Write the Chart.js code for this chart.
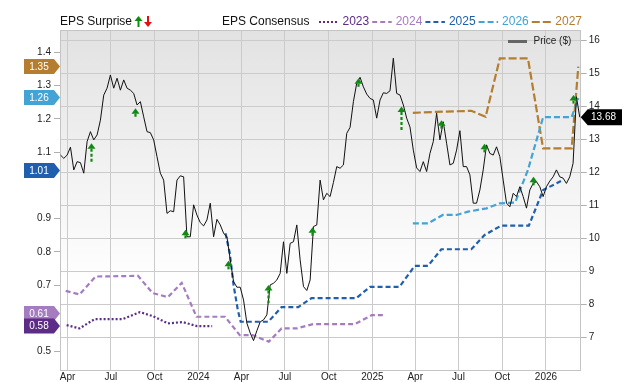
<!DOCTYPE html>
<html><head><meta charset="utf-8">
<script src="https://cdn.jsdelivr.net/npm/chart.js@4/dist/chart.umd.min.js"></script>
<style>html,body{margin:0;padding:0;background:#fff;}canvas{display:block;}</style>
</head><body><canvas id="c" width="640" height="382"></canvas>
<script>
// ---------- data ----------
const xTickDates = ['2023-04-01','2023-07-01','2023-10-01','2024-01-01','2024-04-01','2024-07-01','2024-10-01','2025-01-01','2025-04-01','2025-07-01','2025-10-01','2026-01-01'];
const xTickLabels = ['Apr','Jul','Oct','2024','Apr','Jul','Oct','2025','Apr','Jul','Oct','2026'];
const xRange = ['2023-03-16','2026-03-15'];
const epsTicks = [0.5,0.7,0.8,0.9,1.1,1.2,1.3,1.4];
const priceTicks = [7,8,9,10,11,12,13,14,15,16];

const priceStart = '2023-03-17'; // weekly closes
const priceValues = [
 12.53,12.43,12.53,12.77,12.08,12.33,12.30,11.98,12.94,13.24,
 12.99,13.14,13.59,14.35,14.56,14.96,14.56,14.86,14.50,14.81,
 14.56,14.50,14.40,14.05,14.15,13.69,13.24,13.21,12.99,12.48,
 11.98,11.77,10.76,10.84,10.81,11.77,11.90,11.87,10.05,10.05,
 11.02,10.71,10.48,10.38,10.56,11.07,10.05,10.58,10.41,10.16,
 10.05,9.35,8.69,8.52,8.52,8.13,7.43,7.13,6.90,7.20,
 7.47,7.53,7.68,8.59,8.64,8.74,8.94,9.90,8.94,9.85,
 9.90,10.41,9.35,8.54,8.42,8.74,10.36,10.41,11.77,11.17,
 11.37,11.27,11.70,12.18,12.13,12.23,13.19,13.37,14.15,14.71,
 14.89,14.60,14.38,14.25,14.20,13.65,14.20,14.42,14.40,14.48,
 15.47,14.40,14.35,14.05,13.65,13.38,12.68,12.14,12.03,12.33,
 12.03,12.58,12.94,13.80,12.99,13.54,12.89,12.23,12.28,12.68,
 13.27,12.18,12.18,11.93,11.07,11.07,11.47,12.08,12.84,12.58,
 12.53,12.78,12.48,11.77,11.07,10.96,11.37,11.27,11.57,11.27,
 10.92,11.47,11.67,11.72,11.57,11.27,11.57,11.74,11.87,12.08,
 11.87,11.83,11.67,11.87,12.28,14.30,13.68];
const lastPrice = 13.68;

const eps2023Dates = ['2023-03-30','2023-04-26','2023-05-28','2023-07-26','2023-08-31','2023-09-27','2023-10-29','2023-11-29','2023-12-29','2024-01-30'];
const eps2023Values = [0.580,0.570,0.598,0.598,0.619,0.607,0.585,0.589,0.577,0.577];

const eps2024Dates = ['2023-03-28','2023-04-26','2023-05-30','2023-08-27','2023-09-27','2023-10-29','2023-11-27','2023-12-28','2024-02-26','2024-03-28','2024-04-24','2024-05-28','2024-06-24','2024-07-26','2024-08-29','2024-11-25','2024-12-31','2025-01-27'];
const eps2024Values = [0.683,0.672,0.726,0.728,0.676,0.664,0.707,0.605,0.605,0.550,0.550,0.530,0.570,0.570,0.583,0.583,0.610,0.610];

const eps2025Dates = ['2024-02-27','2024-03-07','2024-03-15','2024-03-24','2024-03-30','2024-05-27','2024-06-24','2024-07-29','2024-08-26','2024-11-28','2024-12-27','2025-02-27','2025-03-31','2025-04-28','2025-05-26','2025-07-28','2025-08-25','2025-09-29','2025-11-26','2025-12-26','2026-01-23','2026-02-05'];
const eps2025Values = [0.856,0.796,0.700,0.625,0.590,0.590,0.634,0.634,0.661,0.661,0.695,0.695,0.758,0.758,0.808,0.808,0.851,0.879,0.879,0.986,1.006,1.016];

const eps2026Dates = ['2025-03-27','2025-04-28','2025-05-29','2025-06-27','2025-07-21','2025-08-29','2025-09-26','2025-10-28','2025-11-24','2025-12-26','2026-02-24','2026-03-10'];
const eps2026Values = [0.886,0.886,0.911,0.911,0.921,0.931,0.946,0.948,1.046,1.205,1.205,1.262];

const eps2027Dates = ['2025-03-27','2025-05-16','2025-07-28','2025-08-27','2025-09-26','2025-11-24','2025-12-26','2026-02-24','2026-03-10'];
const eps2027Values = [1.218,1.221,1.224,1.206,1.382,1.382,1.111,1.111,1.357];

const seriesNames = ['2023','2024','2025','2026','2027'];
const seriesColors = ['#5c2c87','#a57cbf','#1f5fae','#43a3d5','#b47d2f'];
const seriesDash = [[2,2],[5,3],[5,3],[6,3],[8,3]];

const surpriseDates = ['2023-05-20','2023-08-21','2023-12-03','2024-03-03','2024-05-26','2024-08-26','2024-12-02','2025-03-02','2025-05-26','2025-08-23','2025-12-05','2026-02-27'];
const surpriseFrom = [12.33,13.69,10.00,9.02,8.03,10.10,14.63,13.29,13.29,12.68,11.57,14.05];
const surpriseTo   = [12.89,13.95,10.26,9.32,8.59,10.34,14.86,14.00,13.59,12.87,11.87,14.35];

const badgeTexts  = ['1.35','1.26','1.01','0.61','0.58'];
const badgeLevels = [1.357,1.264,1.045,0.615,0.577];
const badgeColors = ['#b47d2f','#43a3d5','#1f5fae','#a57cbf','#5c2c87'];

// ---------- helpers ----------
const DAY0 = Date.UTC(2023,3,1);
function dayOf(s){const p=s.split('-').map(Number);return (Date.UTC(p[0],p[1]-1,p[2])-DAY0)/864e5;}
const FONT = '"Liberation Sans", Arial, Helvetica, sans-serif';
Chart.defaults.font.family = FONT;

const priceData = priceValues.map((v,i)=>({x:dayOf(priceStart)+7*i,y:v}));
const epsDates = [eps2023Dates,eps2024Dates,eps2025Dates,eps2026Dates,eps2027Dates];
const epsVals = [eps2023Values,eps2024Values,eps2025Values,eps2026Values,eps2027Values];

const datasets = [{
  label:'Price ($)', data:priceData, yAxisID:'y2', borderColor:'#111', borderWidth:1,
  pointRadius:0, tension:0, order:0
}];
seriesNames.forEach((n,k)=>{
  datasets.push({label:n, data:epsDates[k].map((d,i)=>({x:dayOf(d),y:epsVals[k][i]})),
    yAxisID:'y', borderColor:seriesColors[k], borderWidth:2.2, borderDash:seriesDash[k],
    pointRadius:0, tension:0, order:1});
});

function upArrow(ctx,x,tip,base,color,headH,halfW){
  ctx.fillStyle=color;
  ctx.beginPath();ctx.moveTo(x,tip);ctx.lineTo(x+halfW,tip+headH);ctx.lineTo(x-halfW,tip+headH);ctx.closePath();ctx.fill();
}

const bgPlugin = {id:'bg', beforeDraw(chart){
  const {ctx,chartArea:a}=chart; ctx.save();
  const g=ctx.createLinearGradient(0,a.top,0,a.bottom);
  g.addColorStop(0,'#e2e2e2'); g.addColorStop(0.75,'#ffffff'); g.addColorStop(1,'#ffffff');
  ctx.fillStyle=g; ctx.fillRect(a.left,a.top,a.right-a.left,a.bottom-a.top); ctx.restore();
}};

const overlayPlugin = {id:'overlay',
 afterDatasetsDraw(chart){
  const {ctx,chartArea:a}=chart; const xs=chart.scales.x, ps=chart.scales.y2;
  ctx.save();
  ctx.strokeStyle='#c4c4c4'; ctx.lineWidth=1;
  ctx.beginPath(); ctx.moveTo(a.left,a.top+0.5); ctx.lineTo(a.right,a.top+0.5); ctx.stroke();
  surpriseDates.forEach((d,i)=>{
    const x=Math.round(xs.getPixelForValue(dayOf(d)))+0.5;
    const tip=ps.getPixelForValue(surpriseTo[i]); const bot=ps.getPixelForValue(surpriseFrom[i]);
    const col='#118a11';
    upArrow(ctx,x,tip,bot,col,5.5,4);
    ctx.strokeStyle=col; ctx.lineWidth=2.2; ctx.setLineDash([3,2]);
    ctx.beginPath(); ctx.moveTo(x,tip+5.5); ctx.lineTo(x,Math.max(bot,tip+9)); ctx.stroke();
    ctx.setLineDash([]);
  });
  // price legend inside plot
  ctx.strokeStyle='#666'; ctx.lineWidth=3;
  ctx.beginPath(); ctx.moveTo(508,41.5); ctx.lineTo(527,41.5); ctx.stroke();
  ctx.fillStyle='#222'; ctx.font='10px '+FONT; ctx.textBaseline='middle'; ctx.textAlign='left';
  ctx.fillText('Price ($)',533.5,41.5);
  ctx.restore();
 },
 afterDraw(chart){
  const {ctx}=chart; const es=chart.scales.y, ps=chart.scales.y2, a=chart.chartArea;
  ctx.save();
  // left badges
  ctx.font='10px '+FONT; ctx.textBaseline='middle'; ctx.textAlign='center';
  badgeTexts.forEach((t,i)=>{
    const y=es.getPixelForValue(badgeLevels[i]);
    ctx.fillStyle=badgeColors[i];
    ctx.beginPath(); ctx.moveTo(24,y-7.5); ctx.lineTo(54,y-7.5); ctx.lineTo(a.left,y); ctx.lineTo(54,y+7.5); ctx.lineTo(24,y+7.5); ctx.closePath(); ctx.fill();
    ctx.fillStyle='#fff'; ctx.fillText(t,39,y+0.5);
  });
  // right badge
  const yp=ps.getPixelForValue(lastPrice);
  ctx.fillStyle='#000';
  ctx.beginPath(); ctx.moveTo(a.right,yp); ctx.lineTo(a.right+7,yp-8); ctx.lineTo(622,yp-8); ctx.lineTo(622,yp+8); ctx.lineTo(a.right+7,yp+8); ctx.closePath(); ctx.fill();
  ctx.fillStyle='#fff'; ctx.fillText(lastPrice.toFixed(2),603.5,yp+0.5);
  // top legend
  const y=22;
  ctx.font='12px '+FONT; ctx.textAlign='left'; ctx.fillStyle='#111';
  ctx.fillText('EPS Surprise',60,y);
  // up green / down red legend arrows
  ctx.fillStyle='#118a11';
  ctx.beginPath(); ctx.moveTo(138.5,y-6); ctx.lineTo(142.5,y-1); ctx.lineTo(134.5,y-1); ctx.closePath(); ctx.fill();
  ctx.fillRect(137.5,y-1,2,6);
  ctx.fillStyle='#e01010';
  ctx.beginPath(); ctx.moveTo(148,y+5); ctx.lineTo(152,y); ctx.lineTo(144,y); ctx.closePath(); ctx.fill();
  ctx.fillRect(147,y-6,2,6);
  ctx.fillStyle='#111';
  ctx.fillText('EPS Consensus',222,y);
  let x=319;
  seriesNames.forEach((n,k)=>{
    ctx.strokeStyle=seriesColors[k]; ctx.lineWidth=2.2; ctx.setLineDash(seriesDash[k]);
    ctx.beginPath(); ctx.moveTo(x,y); ctx.lineTo(x+19.5,y); ctx.stroke(); ctx.setLineDash([]);
    ctx.fillStyle=seriesColors[k]; ctx.fillText(n,x+23.5,y);
    x += 23.5 + ctx.measureText(n).width + 3;
  });
  ctx.restore();
 }
};

new Chart(document.getElementById('c'),{
  type:'line',
  data:{datasets},
  options:{
    responsive:false, animation:false, devicePixelRatio:1,
    layout:{padding:{top:30,left:0,right:0,bottom:0}},
    plugins:{legend:{display:false},tooltip:{enabled:false}},
    elements:{line:{borderCapStyle:'butt'}},
    scales:{
      x:{type:'linear', min:dayOf(xRange[0]), max:dayOf(xRange[1]),
        afterBuildTicks(s){s.ticks=xTickDates.map(d=>({value:dayOf(d)}));},
        afterFit(s){s.height=12;},
        ticks:{autoSkip:false,maxRotation:0,padding:1,color:'#222',font:{size:10},
          callback:(v,i)=>xTickLabels[i]},
        grid:{color:'#cbcbcb',drawTicks:false,lineWidth:1},
        border:{display:true,color:'#c4c4c4'}},
      y:{type:'linear',position:'left',min:0.445,max:1.467,
        afterBuildTicks(s){s.ticks=epsTicks.map(v=>({value:v}));},
        afterFit(s){s.width=60;},
        ticks:{padding:3,color:'#222',font:{size:10},callback:v=>Number(v).toFixed(1)},
        grid:{drawOnChartArea:false,drawTicks:true,tickLength:6,tickColor:'#b0b0b0'},
        border:{display:true,color:'#c4c4c4'}},
      y2:{type:'linear',position:'right',min:6.008,max:16.325,
        afterBuildTicks(s){s.ticks=priceTicks.map(v=>({value:v}));},
        afterFit(s){s.width=59.3;},
        ticks:{padding:2,color:'#222',font:{size:10},callback:v=>String(v)},
        grid:{color:'#cbcbcb',drawTicks:true,tickLength:6,tickColor:'#b0b0b0',lineWidth:1},
        border:{display:true,color:'#c4c4c4'}}
    }
  },
  plugins:[bgPlugin,overlayPlugin]
});
</script></body></html>
